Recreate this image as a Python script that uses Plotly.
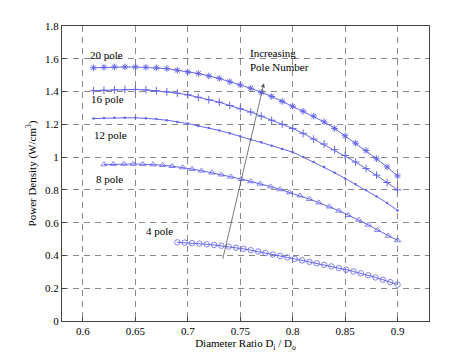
import plotly.graph_objects as go

x20 = [0.61, 0.62, 0.63, 0.64, 0.65, 0.66, 0.67, 0.68, 0.69, 0.70, 0.71, 0.72, 0.73, 0.74, 0.75,
       0.76, 0.77, 0.78, 0.79, 0.80, 0.81, 0.82, 0.83, 0.84, 0.85, 0.86, 0.87, 0.88, 0.89, 0.90]
pole20 = [1.545, 1.548, 1.55, 1.55, 1.55, 1.548, 1.545, 1.54, 1.53, 1.52, 1.51, 1.495, 1.48, 1.46, 1.44,
          1.42, 1.395, 1.37, 1.34, 1.31, 1.28, 1.25, 1.215, 1.175, 1.13, 1.085, 1.04, 0.99, 0.94, 0.885]
pole16 = [1.405, 1.408, 1.41, 1.412, 1.413, 1.41, 1.405, 1.398, 1.39, 1.38, 1.365, 1.35, 1.335, 1.315, 1.295,
          1.275, 1.25, 1.225, 1.2, 1.175, 1.145, 1.11, 1.08, 1.045, 1.01, 0.97, 0.93, 0.89, 0.845, 0.80]
pole12 = [1.235, 1.238, 1.24, 1.24, 1.24, 1.237, 1.232, 1.225, 1.215, 1.205, 1.19, 1.178, 1.163, 1.145, 1.127,
          1.107, 1.09, 1.07, 1.05, 1.03, 1.0, 0.97, 0.94, 0.905, 0.87, 0.835, 0.8, 0.76, 0.72, 0.675]

x8 = [0.62, 0.629, 0.639, 0.648, 0.657, 0.667, 0.676, 0.685, 0.695, 0.704, 0.713, 0.723, 0.732, 0.741, 0.751,
      0.76, 0.769, 0.779, 0.788, 0.797, 0.807, 0.816, 0.825, 0.835, 0.844, 0.853, 0.863, 0.872, 0.881, 0.891, 0.90]
pole8 = [0.955, 0.957, 0.958, 0.958, 0.957, 0.955, 0.951, 0.945, 0.937, 0.927, 0.917, 0.905, 0.893, 0.88, 0.866,
         0.852, 0.837, 0.82, 0.803, 0.785, 0.765, 0.744, 0.722, 0.698, 0.673, 0.646, 0.617, 0.587, 0.555, 0.52, 0.492]

x4 = [0.690, 0.697, 0.704, 0.711, 0.718, 0.725, 0.732, 0.739, 0.746, 0.753, 0.760, 0.767, 0.774, 0.781, 0.788,
      0.795, 0.802, 0.809, 0.816, 0.823, 0.830, 0.837, 0.844, 0.851, 0.858, 0.865, 0.872, 0.879, 0.886, 0.893, 0.900]
pole4 = [0.480, 0.478, 0.475, 0.472, 0.468, 0.464, 0.459, 0.454, 0.447, 0.440, 0.432, 0.424, 0.415, 0.406, 0.397,
         0.388, 0.379, 0.370, 0.361, 0.352, 0.343, 0.333, 0.323, 0.313, 0.302, 0.291, 0.279, 0.266, 0.252, 0.237, 0.222]

labels = ["20 pole", "16 pole", "12 pole", "8 pole", "4 pole"]
label_x = [0.6045, 0.6055, 0.6085, 0.6105, 0.658]
label_y = [1.625, 1.355, 1.135, 0.865, 0.55]

C = "rgb(100,100,235)"
SERIF = "Liberation Serif, Times New Roman, serif"
fig = go.Figure()
series = [
    (x20, pole20, dict(symbol="asterisk-open", size=5.5, color=C, line=dict(color=C, width=1))),
    (x20, pole16, dict(symbol="cross-thin-open", size=5.5, color=C, line=dict(color=C, width=1))),
    (x20, pole12, dict(symbol="circle", size=2.5, color=C)),
    (x8, pole8, dict(symbol="triangle-up-open", size=5.5, color=C, line=dict(color=C, width=0.8))),
    (x4, pole4, dict(symbol="circle-open", size=5.5, color=C, line=dict(color=C, width=0.8))),
]
for xs, ys, mk in series:
    fig.add_trace(go.Scatter(x=xs, y=ys, mode="lines+markers", line=dict(color=C, width=1),
                             marker=mk, showlegend=False))

font = dict(family=SERIF, size=11, color="black")
for t, lx, ly in zip(labels, label_x, label_y):
    fig.add_annotation(x=lx, y=ly, text=t, showarrow=False, xanchor="left", font=font)

fig.add_annotation(x=0.7725, y=1.45, ax=0.733, ay=0.37, xref="x", yref="y", axref="x", ayref="y",
                   text="", showarrow=True, arrowhead=2, arrowsize=1, arrowwidth=0.8, arrowcolor="#555")
fig.add_annotation(x=0.757, y=1.595, text="Increasing<br>Pole Number", showarrow=False,
                   xanchor="left", align="left", font=font)

axis_common = dict(showline=True, linecolor="#444", linewidth=1, mirror=True, ticks="inside",
                   ticklen=4, tickcolor="#444", showgrid=True, gridcolor="#888", griddash="6px,5px",
                   gridwidth=1, zeroline=False, automargin=False,
                   tickfont=dict(family=SERIF, size=11, color="black"))
fig.update_xaxes(range=[0.58, 0.93], tickvals=[0.6, 0.65, 0.7, 0.75, 0.8, 0.85, 0.9],
                 ticktext=["0.6", "0.65", "0.7", "0.75", "0.8", "0.85", "0.9"],
                 title=dict(text="Diameter Ratio D<sub>i</sub> / D<sub>o</sub>", standoff=2,
                            font=dict(family=SERIF, size=11, color="black")), **axis_common)
fig.update_yaxes(range=[0, 1.8], tickvals=[0, 0.2, 0.4, 0.6, 0.8, 1, 1.2, 1.4, 1.6, 1.8],
                 ticktext=["0", "0.2", "0.4", "0.6", "0.8", "1", "1.2", "1.4", "1.6", "1.8"],
                 title=dict(text="Power Density (W/cm<sup>3</sup>)", standoff=6,
                            font=dict(family=SERIF, size=11, color="black")), **axis_common)
fig.update_layout(width=474, height=361, margin=dict(l=62, r=45, t=26, b=40),
                  plot_bgcolor="white", paper_bgcolor="white")
fig.write_html("out.html", config={"displayModeBar": False},
               post_script="document.body.style.margin='0';document.body.style.overflow='hidden';")
